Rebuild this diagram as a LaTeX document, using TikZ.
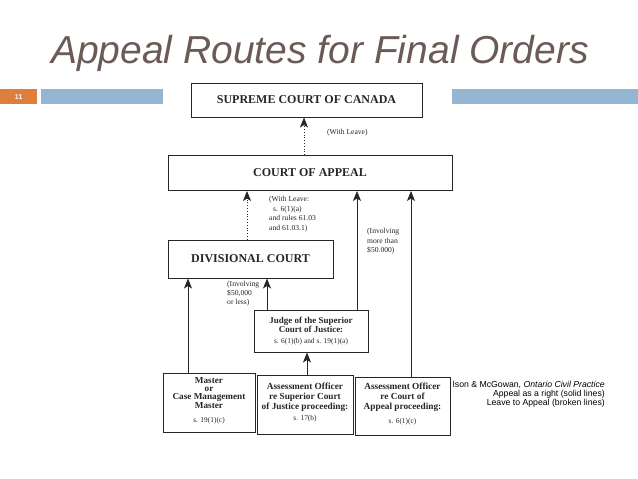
\documentclass[tikz,border=0pt]{standalone}
\usepackage{fontspec}
\setmainfont{Liberation Serif}
\newfontfamily\arialf{Liberation Sans}
\usetikzlibrary{arrows.meta}
\definecolor{titlecol}{HTML}{6B5A55}
\definecolor{orangebar}{HTML}{DD7E3E}
\definecolor{bluebar}{HTML}{94B6D2}
\definecolor{ink}{HTML}{262626}
\newcommand\secsmall{\fontsize{7.4}{8}\selectfont\mdseries}
\tikzset{
  court/.style={draw=ink, line width=1pt, fill=white, rectangle, inner sep=0pt, align=center, font=\bfseries, text=ink},
  lbl/.style={font=\fontsize{7.6}{9.6}\selectfont, text=ink, align=left, inner sep=0pt},
  arr/.style={-{Stealth[length=10pt,width=8pt,inset=2.5pt]}, draw=ink, line width=0.8pt},
  leave/.style={arr, dotted}
}
\begin{document}
\begin{tikzpicture}[x=1pt,y=-1pt]
\useasboundingbox (0,0) rectangle (638,479);
% header
\node[font=\arialf\itshape\fontsize{39}{42}\selectfont, text=titlecol, anchor=base] (title) at (320,63) {Appeal Routes for Final Orders};
\node[fill=orangebar, minimum width=37pt, minimum height=15pt, inner sep=0pt, anchor=north west, font=\arialf\bfseries\fontsize{7}{8}\selectfont, text=white] (num) at (0,89) {11};
\node[fill=bluebar, minimum width=122pt, minimum height=15pt, inner sep=0pt, anchor=north west] (barl) at (41,89) {};
\node[fill=bluebar, minimum width=186pt, minimum height=15pt, inner sep=0pt, anchor=north west] (barr) at (452,89) {};
% courts
\node[court, minimum width=231pt, minimum height=34pt, font=\bfseries\fontsize{12}{14}\selectfont] (sc) at (306.5,100) {SUPREME COURT OF CANADA};
\node[court, minimum width=284pt, minimum height=35pt, font=\bfseries\fontsize{12}{14}\selectfont] (coa) at (310,173) {COURT OF APPEAL};
\node[court, minimum width=165pt, minimum height=38pt, font=\bfseries\fontsize{12}{14}\selectfont] (div) at (250.5,259) {DIVISIONAL COURT};
\node[court, minimum width=114pt, minimum height=42pt, font=\bfseries\fontsize{9}{9.8}\selectfont] (judge) at (311,331) {Judge of the Superior\\Court of Justice:\\[1pt]{\secsmall s. 6(1)(b) and s. 19(1)(a)}};
\node[court, minimum width=92pt, minimum height=59pt, font=\bfseries\fontsize{9.2}{8.3}\selectfont] (master) at (209,402.5) {Master\\or\\Case Management\\Master\\[6pt]{\secsmall s. 19(1)(c)}\\[-3pt]\mbox{}};
\node[court, minimum width=96pt, minimum height=59pt, font=\bfseries\fontsize{9.3}{10.3}\selectfont] (aoscj) at (305,404.5) {Assessment Officer\\re Superior Court\\of Justice proceeding:\\[0pt]{\secsmall s. 17(b)}\\[-4pt]\mbox{}};
\node[court, minimum width=95pt, minimum height=58pt, font=\bfseries\fontsize{9.3}{9.8}\selectfont] (aoca) at (402.5,406) {Assessment Officer\\re Court of\\Appeal proceeding:\\[4pt]{\secsmall s. 6(1)(c)}\\[-4pt]\mbox{}};
% x positions of connectors
\coordinate (xa) at (304,0);
\coordinate (xb) at (247,0);
\coordinate (xc) at (357,0);
\coordinate (xd) at (411,0);
\coordinate (xe) at (188,0);
\coordinate (xf) at (267,0);
\coordinate (xg) at (307,0);
% connectors
\draw[leave] (coa.north -| xa) -- (sc.south -| xa);
\draw[leave] (div.north -| xb) -- (coa.south -| xb);
\draw[arr] (judge.north -| xc) -- (coa.south -| xc);
\draw[arr] (aoca.north -| xd) -- (coa.south -| xd);
\draw[arr] (master.north -| xe) -- (div.south -| xe);
\draw[arr] (judge.north -| xf) -- (div.south -| xf);
\draw[arr] (aoscj.north -| xg) -- (judge.south -| xg);
% labels
\node[lbl, anchor=north west] (l1) at (327,129) {(With Leave)};
\node[lbl, anchor=north west] (l2) at (269,196) {(With Leave:\\\hspace{4pt}s. 6(1)(a)\\and rules 61.03\\and 61.03.1)};
\node[lbl, anchor=north west] (l3) at (367,228) {(Involving\\more than\\\$50.000)};
\node[lbl, anchor=north west, font=\fontsize{7.6}{9}\selectfont] (l4) at (227,281) {(Involving\\\$50,000\\or less)};
% source note
\node[font=\arialf\fontsize{8.7}{9.2}\selectfont, align=right, anchor=north east, inner sep=0pt, text=black] (note) at (605,381) {lson \& McGowan, \textit{Ontario Civil Practice}\\Appeal as a right (solid lines)\\Leave to Appeal (broken lines)};
\end{tikzpicture}
\end{document}
